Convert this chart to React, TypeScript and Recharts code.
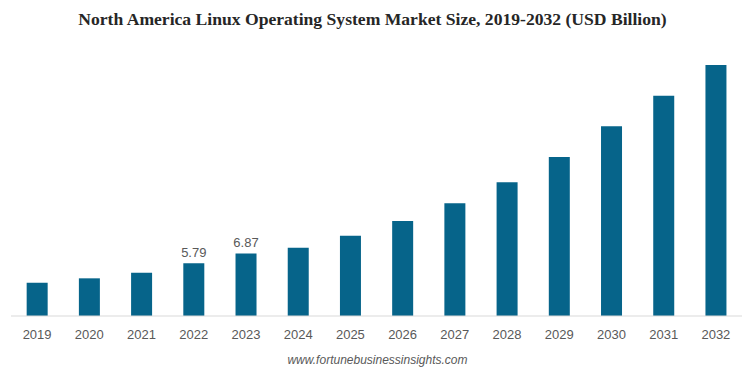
import { BarChart, Bar, XAxis, YAxis, LabelList } from 'recharts';

const years = ['2019', '2020', '2021', '2022', '2023', '2024', '2025', '2026', '2027', '2028', '2029', '2030', '2031', '2032'];
const marketSize = [3.66, 4.14, 4.76, 5.79, 6.87, 7.51, 8.83, 10.44, 12.38, 14.69, 17.47, 20.85, 24.2, 27.58];
const shownLabels: (string | null)[] = [null, null, null, '5.79', '6.87', null, null, null, null, null, null, null, null, null];

const data = years.map((year, i) => ({ year, value: marketSize[i], label: shownLabels[i] }));

const renderLabel = (props: any) => {
  const { x, y, width, value } = props;
  if (value == null) return null;
  return (
    <text x={x + width / 2} y={y - 6} textAnchor="middle" fill="#595959" fontSize={13} fontFamily="Liberation Sans, Arial, sans-serif">
      {value}
    </text>
  );
};

export default function App() {
  return (
    <div style={{ position: 'absolute', left: 0, top: 0, width: 745, height: 372, background: '#fff' }}>
      <div
        style={{
          position: 'absolute',
          top: 9,
          left: 0,
          width: 745,
          textAlign: 'center',
          fontFamily: '"Liberation Serif", "Times New Roman", serif',
          fontWeight: 'bold',
          fontSize: 17.6,
          color: '#262626',
        }}
      >
        North America Linux Operating System Market Size, 2019-2032 (USD Billion)
      </div>
      <BarChart
        width={745}
        height={372}
        data={data}
        margin={{ top: 43, right: 3, left: 11, bottom: 26 }}
        barCategoryGap="30%"
      >
        <XAxis
          dataKey="year"
          tickLine={false}
          axisLine={{ stroke: '#d9d9d9' }}
          tickMargin={8}
          height={30}
          interval={0}
          tick={{ fontSize: 13, fill: '#595959', fontFamily: 'Liberation Sans, Arial, sans-serif' }}
        />
        <YAxis hide domain={[0, 30]} />
        <Bar dataKey="value" fill="#06648A" isAnimationActive={false}>
          <LabelList dataKey="label" content={renderLabel} />
        </Bar>
      </BarChart>
      <div
        style={{
          position: 'absolute',
          top: 353,
          left: 0,
          width: 755,
          textAlign: 'center',
          fontFamily: '"Liberation Sans", Arial, sans-serif',
          fontStyle: 'italic',
          fontSize: 12,
          color: '#595959',
        }}
      >
        www.fortunebusinessinsights.com
      </div>
    </div>
  );
}
